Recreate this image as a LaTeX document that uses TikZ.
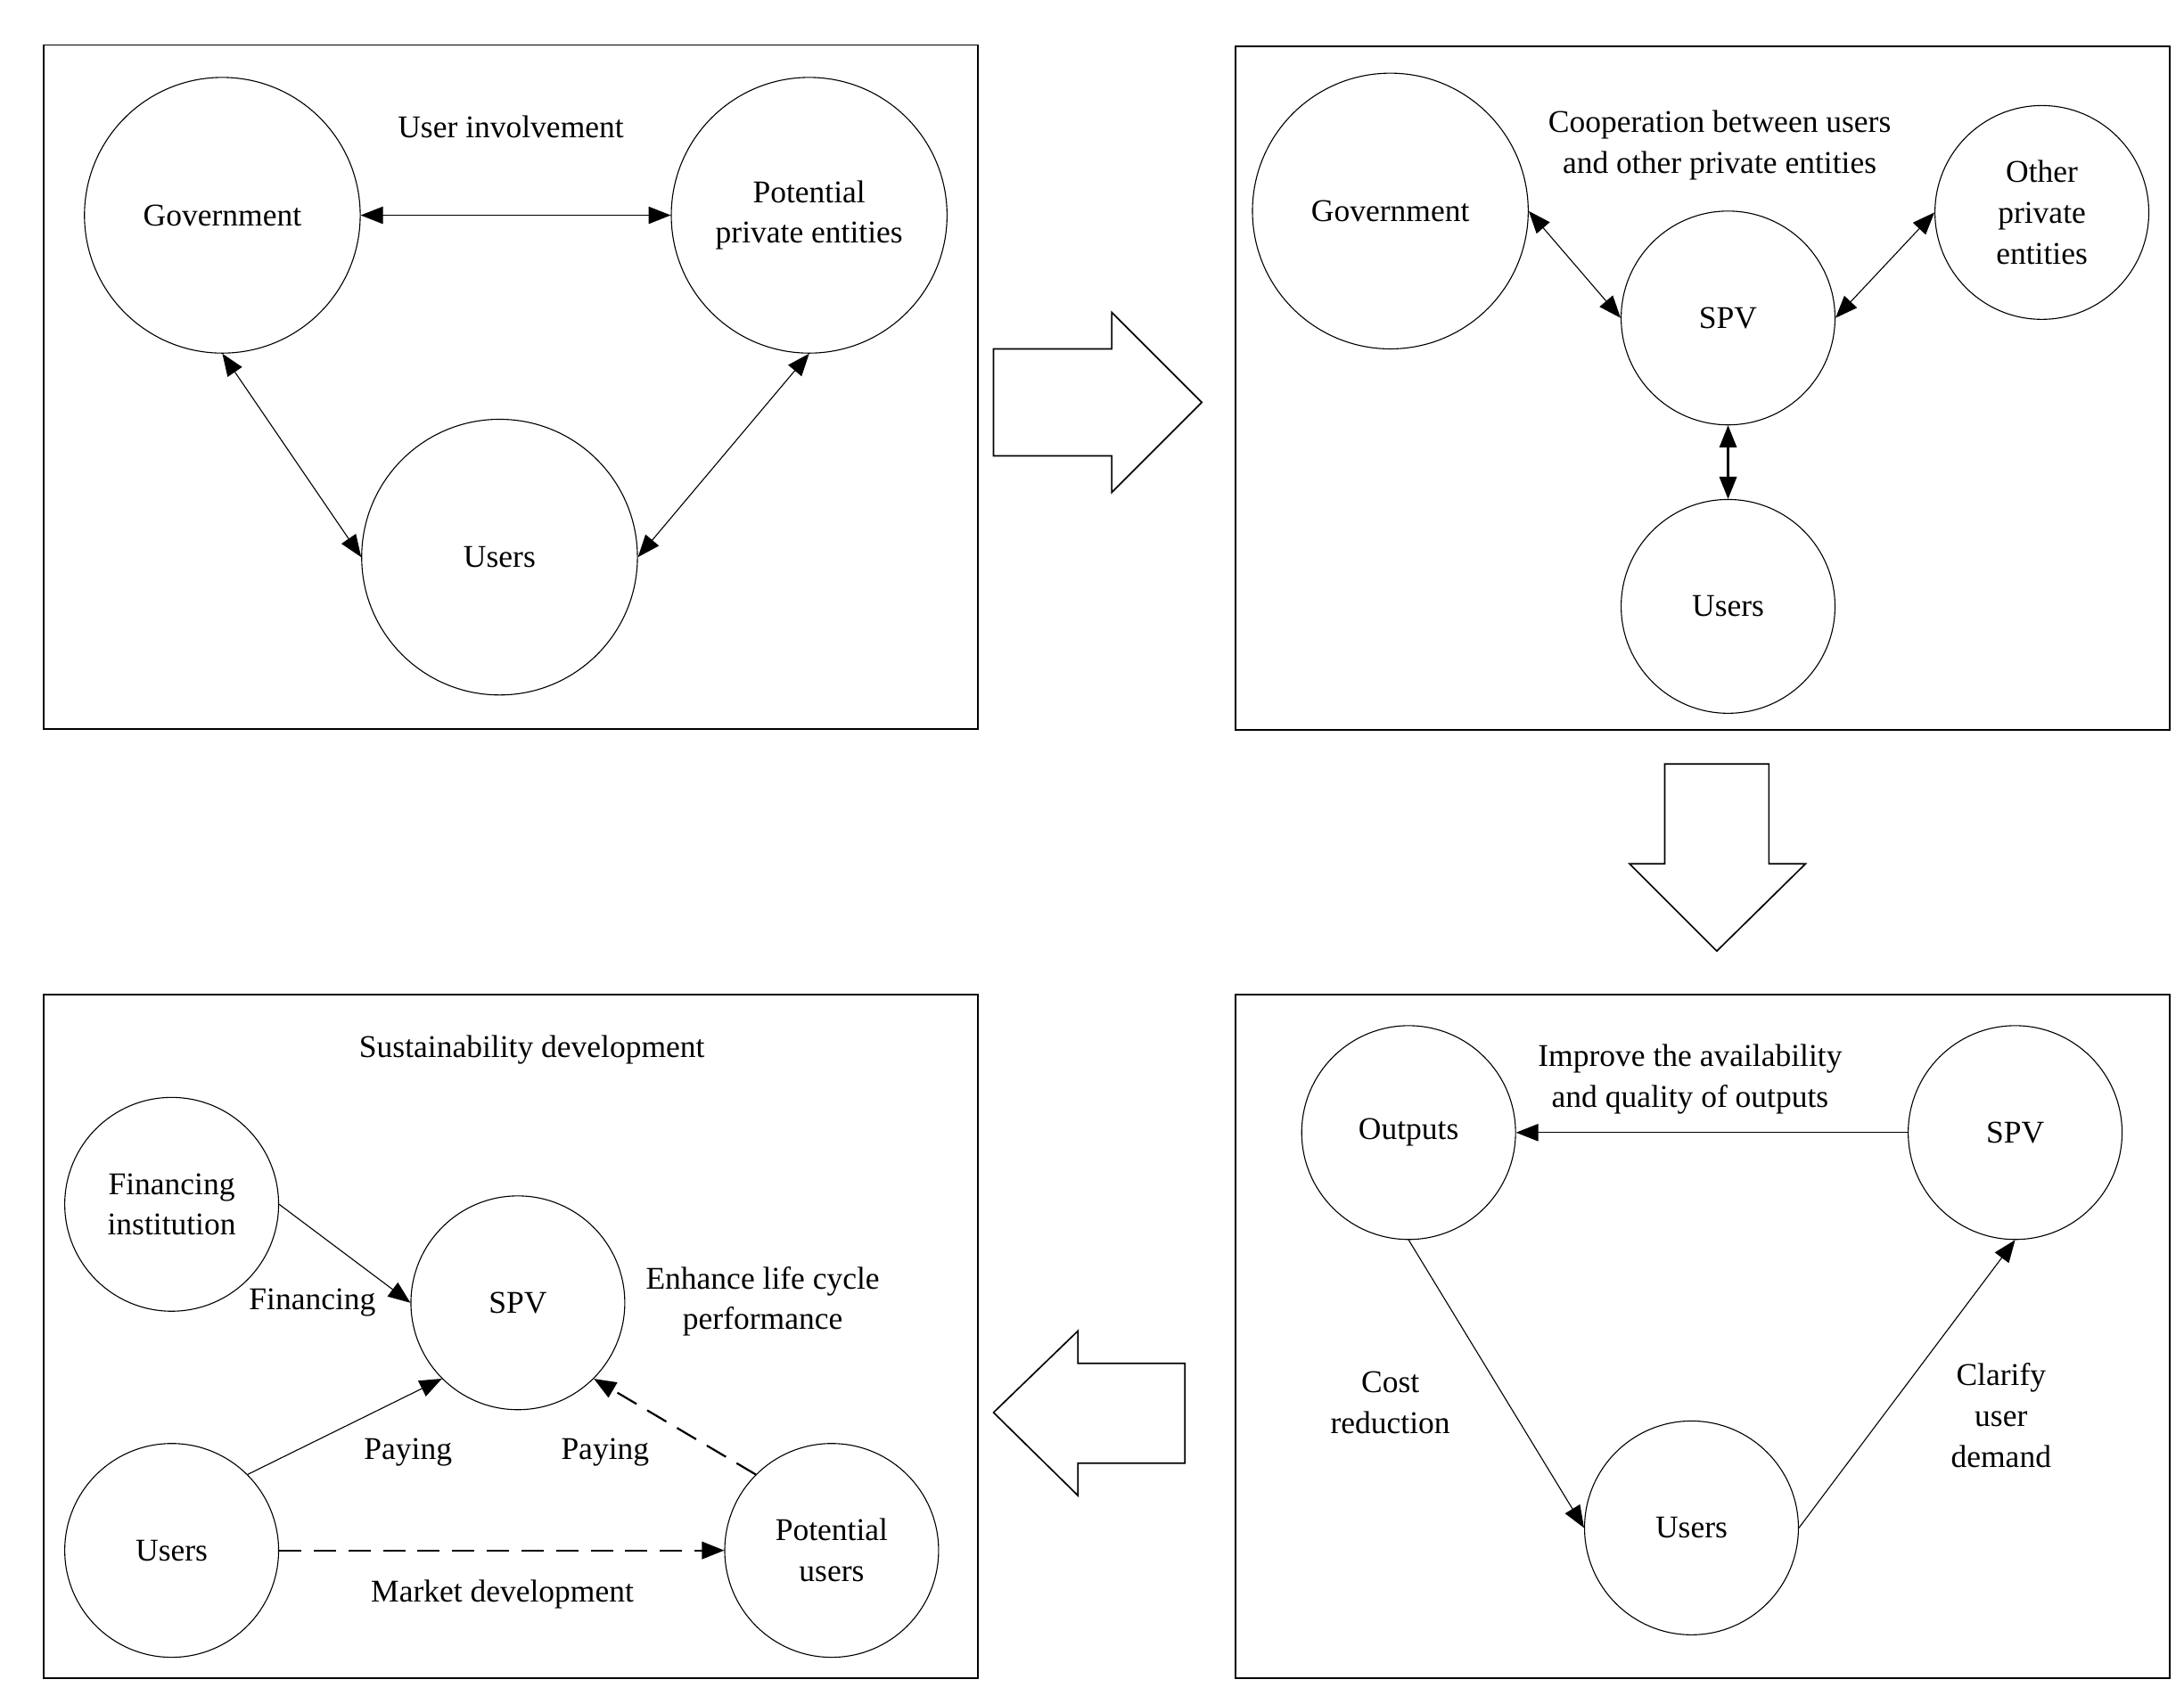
\documentclass[tikz,border=0pt]{standalone}
\usepackage{fontspec}
\setmainfont{Liberation Serif}
\usetikzlibrary{arrows.meta}
\begin{document}
\begin{tikzpicture}[x=0.02cm,y=-0.02cm]
    \tikzset{big/.style= {draw,
                          circle,
                          align=center,
                          minimum size=3.92cm},
             small/.style={draw,
                          circle,
                          align=center,
                          minimum size=3.04cm},
             panel/.style={draw, line width=0.6pt},
             lab/.style=  {align=center},
             every node/.style={font=\fontsize{12.8}{16.5}\selectfont},
             >={Triangle[length=9pt,width=7pt]},
             hollow/.style={draw, line width=0.6pt},
             dashedline/.style={line width=0.8pt, dash pattern=on 9pt off 5pt},
            }
    \useasboundingbox (0,0) rectangle (1552,1211);
    % panels
    \draw[panel] (31,32) rectangle (695,518);
    \draw[panel] (878,33) rectangle (1542,519);
    \draw[panel] (878,707) rectangle (1542,1193);
    \draw[panel] (31,707) rectangle (695,1193);
    % block arrows
    \draw[hollow] (706,248) -- (790,248) -- (790,222) -- (854,286) -- (790,350) -- (790,324) -- (706,324) -- cycle;
    \draw[hollow] (1183,543) -- (1257,543) -- (1257,614) -- (1283,614) -- (1220,676) -- (1158,614) -- (1183,614) -- cycle;
    \draw[hollow] (842,969) -- (766,969) -- (766,946) -- (706,1004) -- (766,1063) -- (766,1040) -- (842,1040) -- cycle;
    % panel 1
    \path
    (158,153)  node[big](g1) {Government}
    (575,153)  node[big](p1) {Potential\\private entities}
    (355,396)  node[big](u1) {Users}
    (363,90)   node[lab](l1) {User involvement}
    ;
    \draw[<->] (g1) -- (p1);
    \draw[<->] (g1.south) -- (u1.west);
    \draw[<->] (p1.south) -- (u1.east);
    % panel 2
    \path
    (988,150)   node[big](g2) {Government}
    (1228,226)  node[small](s2) {SPV}
    (1451,151)  node[small](o2) {Other\\private\\entities}
    (1228,431)  node[small](u2) {Users}
    (1222,103)  node[lab](l2) {Cooperation between users\\and other private entities}
    ;
    \draw[<->] (g2.east) -- (s2.west);
    \draw[<->] (s2.east) -- (o2.west);
    \draw[<->, line width=0.8pt] (s2) -- (u2);
    % panel 4
    \path
    (1001,805)  node[small](o4) {Outputs}
    (1432,805)  node[small](s4) {SPV}
    (1202,1086) node[small](u4) {Users}
    (1201,767)  node[lab](l4) {Improve the availability\\and quality of outputs}
    (988,997)   node[lab](c4) {Cost\\reduction}
    (1422,1006) node[lab](d4) {Clarify\\user\\demand}
    ;
    \draw[->] (s4) -- (o4);
    \draw[->] (o4.south) -- (u4.west);
    \draw[->] (u4.east) -- (s4.south);
    % panel 3
    \path
    (122,856)   node[small](f3) {Financing\\institution}
    (368,926)   node[small](s3) {SPV}
    (122,1102)  node[small](u3) {Users}
    (591,1102)  node[small](p3) {Potential\\users}
    (378,746)   node[lab](l3) {Sustainability development}
    (542,925)   node[lab](e3) {Enhance life cycle\\performance}
    (222,926)   node[lab](a3) {Financing}
    (290,1032)  node[lab](b3) {Paying}
    (430,1032)  node[lab](c3) {Paying}
    (357,1133)  node[lab](m3) {Market development}
    ;
    \draw[->] (f3.east) -- (s3.west);
    \draw[->] (u3.45) -- (s3.225);
    \draw[->, dashedline] (p3.135) -- (s3.-45);
    \draw[->, dashedline] (u3) -- (p3);
\end{tikzpicture}
\end{document}
